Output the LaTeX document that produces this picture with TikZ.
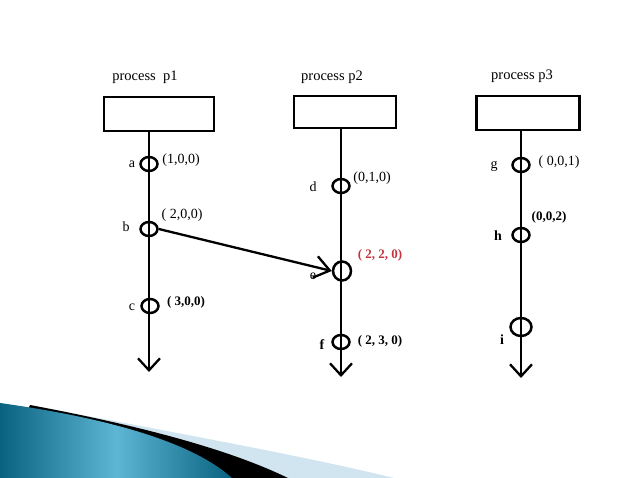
\documentclass[tikz,border=0pt]{standalone}
\usepackage{fontspec}
\setmainfont{Liberation Serif}
\usetikzlibrary{arrows.meta,shapes.geometric}

\definecolor{stampred}{RGB}{196,52,64}
\definecolor{tealdark}{RGB}{8,98,128}
\definecolor{teallight}{RGB}{92,182,212}
\definecolor{palebar}{RGB}{208,229,239}

\tikzset{
  procbox/.style={draw,line width=2.2pt,minimum width=110pt,minimum height=34pt},
  ptitle/.style={font=\fontsize{14.5}{16}\selectfont},
  ev/.style={draw,ellipse,line width=2.5pt,minimum width=17pt,minimum height=14pt,inner sep=0pt},
  lbl/.style={font=\fontsize{14}{16}\selectfont},
  stamp/.style={font=\fontsize{14}{16}\selectfont},
  timeline/.style={line width=2.3pt,-{Straight Barb[length=12pt,width=22pt,line width=2.3pt]}},
  msg/.style={line width=2.3pt,-{Straight Barb[length=15pt,width=22pt,line width=2.3pt]}}
}

\begin{document}
\begin{tikzpicture}[x=1pt,y=-1pt]
\useasboundingbox (0,0) rectangle (638,478);
%\fill[white] (0,0) rectangle (638,478);
% corner swoosh
\fill[palebar] (30,405) .. controls (160,430) and (300,455) .. (394,478) -- (0,478) -- cycle;
\fill[black] (30,405) .. controls (120,422) and (220,445) .. (288,478) -- (0,478) -- cycle;
\shade[left color=tealdark,right color=tealdark,middle color=teallight]
  (0,403) .. controls (100,417) and (190,440) .. (232,478) -- (0,478) -- cycle;

% processes
\node[procbox] (p1) at (159,114) {};
\node[procbox,minimum width=102pt,minimum height=32pt] (p2) at (345,112) {};
\node[procbox,minimum width=103pt] (p3) at (528,113) {};
\node[ptitle] (t1) at (145,77) {process\ \ p1};
\node[ptitle] (t2) at (332,77) {process p2};
\node[ptitle] (t3) at (522,76) {process p3};

\coordinate (end1) at (149,372);
\coordinate (end2) at (341,377);
\coordinate (end3) at (521,378);
\draw[timeline] (p1.south -| end1) -- (end1);
\draw[timeline] (p2.south -| end2) -- (end2);
\draw[timeline] (p3.south -| end3) -- (end3);

% events
\foreach \n/\x/\y in {a/149/164, b/149/229, c/150/306, d/341/186, f/341/342, g/521/165, h/521/235}
  \node[ev] (\n) at (\x,\y) {};
\node[ev,minimum width=18pt,minimum height=19pt] (e) at (342,271) {};
\node[ev,minimum width=21pt,minimum height=18pt] (i) at (521,327) {};

\foreach \n/\x/\y in {a/132/164, b/126/227, c/132/307, d/313/187, e/313/276, g/494/166}
  \node[lbl] (\n-l) at (\x,\y) {\n};
\foreach \n/\x/\y in {f/322/345, h/498/236, i/502/340}
  \node[lbl,font=\fontsize{14}{16}\selectfont\bfseries] (\n-l) at (\x,\y) {\n};

% vector clocks
\node[stamp] (a-t) at (181,160) {(1,0,0)};
\node[stamp] (b-t) at (182,215) {( 2,0,0)};
\node[stamp,font=\fontsize{13}{16}\selectfont\bfseries] (c-t) at (186,302) {( 3,0,0)};
\node[stamp] (d-t) at (372,178) {(0,1,0)};
\node[stamp,font=\fontsize{13}{16}\selectfont\bfseries,text=stampred] (e-t) at (380,255) {( 2, 2, 0)};
\node[stamp,font=\fontsize{13}{16}\selectfont\bfseries] (f-t) at (380,341) {( 2, 3, 0)};
\node[stamp] (g-t) at (559,162) {( 0,0,1)};
\node[stamp,font=\fontsize{13}{16}\selectfont\bfseries] (h-t) at (549,217) {(0,0,2)};

% message b -> e
\draw[msg] (b.east) -- (e.west);
\end{tikzpicture}
\end{document}
